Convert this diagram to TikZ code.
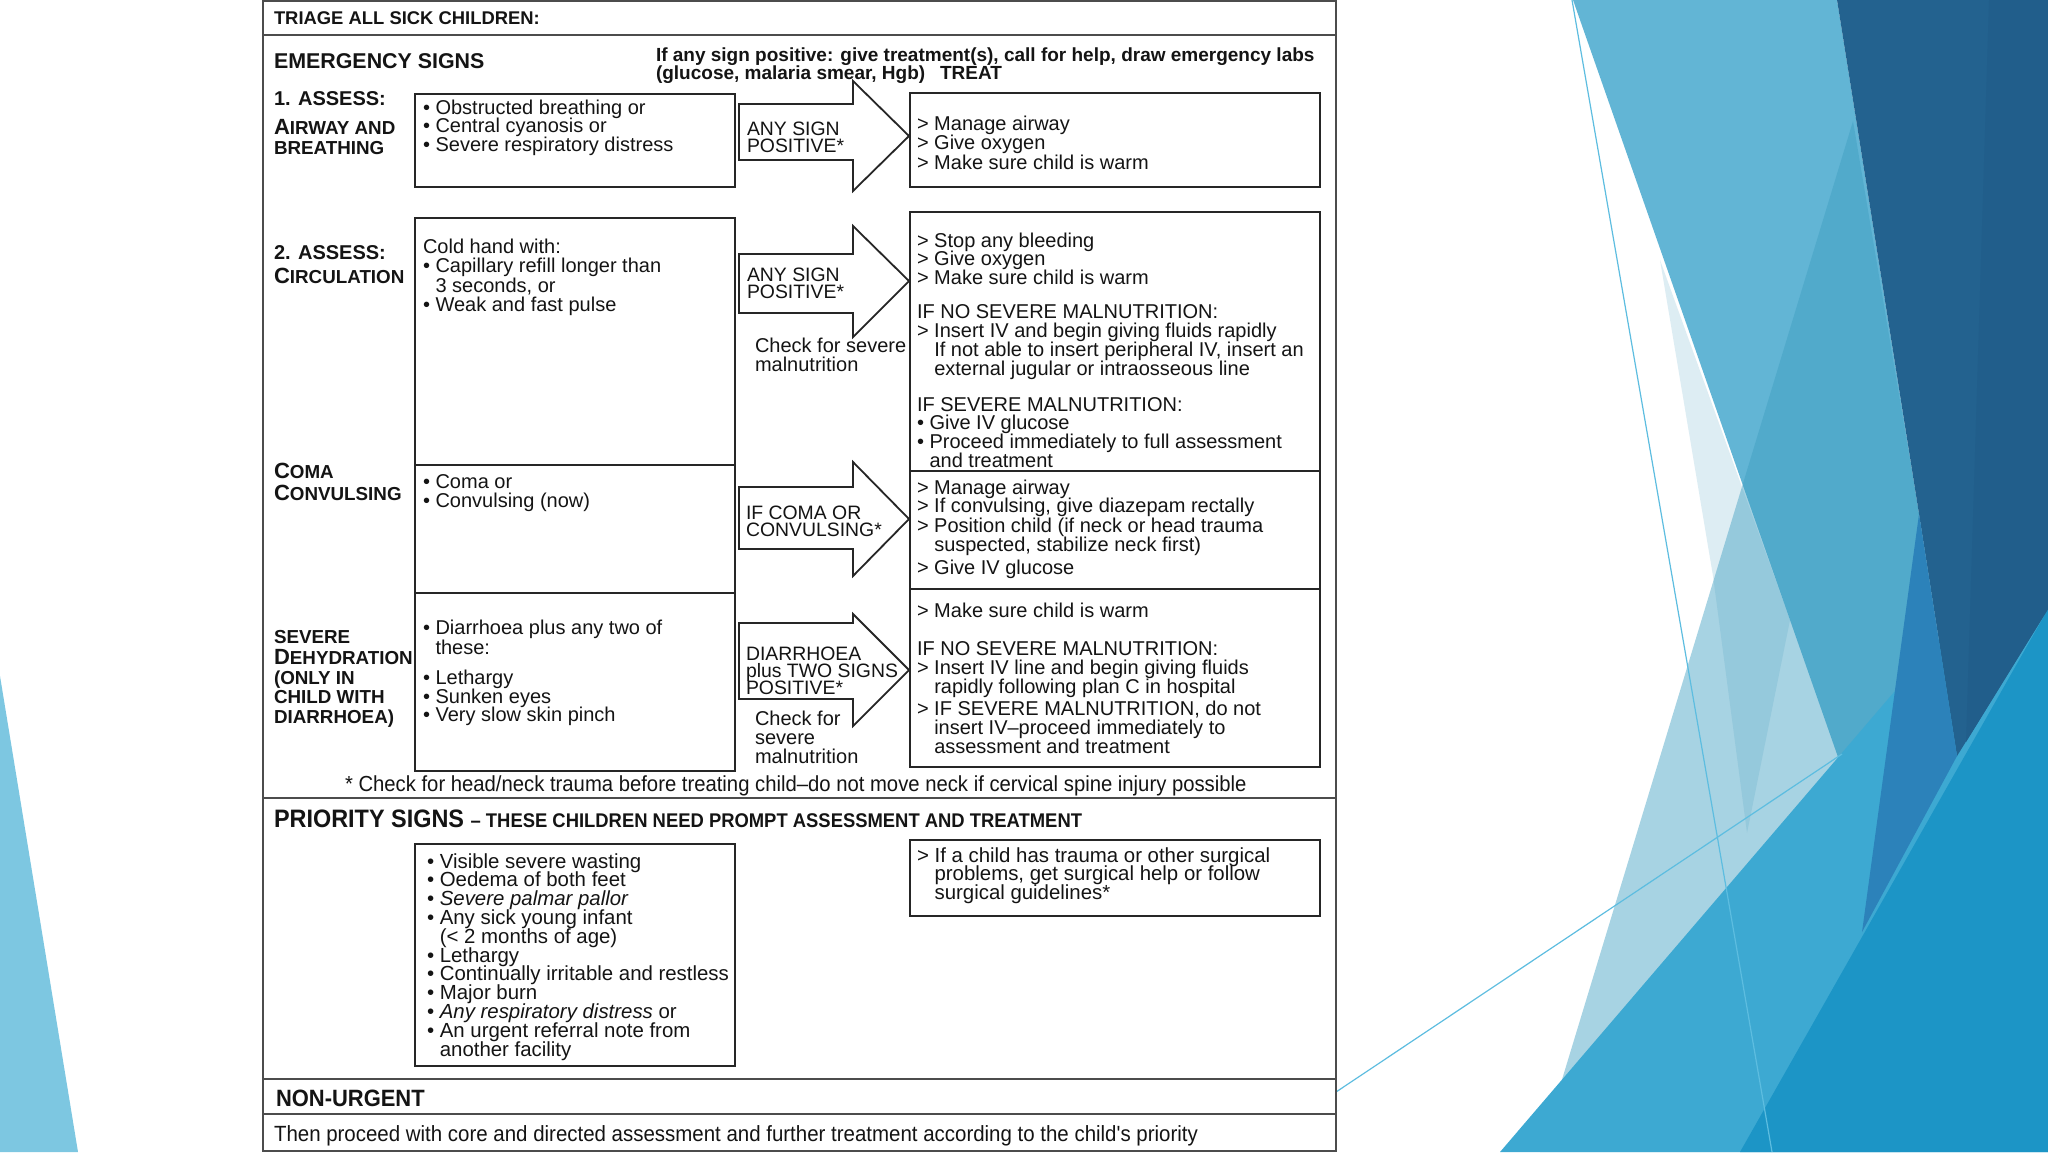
\documentclass[tikz,border=0pt]{standalone}
\usepackage{fontspec}
\setmainfont{Liberation Sans}
\newfontfamily\narf[FakeStretch=0.93]{Liberation Sans}
\definecolor{lwedge}{HTML}{7DC7E1}
\definecolor{bandA}{HTML}{62B5D5}
\definecolor{paleP}{HTML}{DDEDF3}
\definecolor{triC}{HTML}{3E9EC1}
\definecolor{brightB}{HTML}{3DA9D2}
\definecolor{brightC}{HTML}{1C95C6}
\definecolor{darkD}{HTML}{23628F}
\definecolor{darkE}{HTML}{215E8B}
\definecolor{midD}{HTML}{2C82BA}
\definecolor{thinL}{HTML}{5DBDE0}
\newcommand\capl[1]{{\fontsize{11}{11}\selectfont #1}}
\newcommand\ib{\hphantom{• }}
\newcommand\ig{\hphantom{> }}
\begin{document}
\begin{tikzpicture}[x=0.5pt,y=-0.5pt,
  tx/.style={inner sep=0pt,outer sep=0pt,anchor=base west,text=black!92},
  txem/.style={tx,font=\fontsize{10}{12}\selectfont},
  txlab/.style={tx,font=\bfseries\fontsize{9.4}{11}\selectfont},
  txarr/.style={tx,font=\fontsize{9.7}{12}\selectfont},
  txnar/.style={tx,font=\fontsize{10.2}{12}\selectfont},
  txtop/.style={tx,font=\bfseries\fontsize{9.5}{11}\selectfont},
  boxline/.style={draw=black!85,line width=0.9pt},
  frameline/.style={draw=black!70,line width=1pt},
  arrowshape/.style={draw=black!85,line width=0.9pt,fill=white,line join=miter},
]
% ---------- background ----------
\fill[white] (0,0) rectangle (2048,1152);
\useasboundingbox (0,0) rectangle (2048,1152);
\fill[lwedge] (0,676) -- (78,1152) -- (0,1152) -- cycle;
\fill[paleP] (1660,260) -- (1790,620) -- (1747,833) -- (1713,576) -- cycle;
\fill[bandA] (1573,0) -- (1837,0) -- (1919,514) -- (1957,756) -- (1839,760) -- cycle;
\fill[triC,opacity=0.45] (1853,121) -- (1919,514) -- (1957,756) -- (1900,1152) -- (1540,1152) -- cycle;
\fill[brightB] (1500,1152) -- (1960,615) -- (2048,609) -- (2048,1152) -- cycle;
\fill[brightC] (1740,1152) -- (2048,609) -- (2048,1152) -- cycle;
\fill[darkD] (1837,0) -- (2048,0) -- (2048,609) -- (1957,756) -- (1919,514) -- cycle;
\fill[darkE] (1989,0) -- (2048,0) -- (2048,609) -- (1966,742) -- cycle;
\fill[midD] (1919,514) -- (1957,756) -- (1862,932) -- cycle;
\draw[thinL,line width=0.6pt] (1572,0) -- (1772,1152);
\coordinate (lnA) at (1336,1092);
\coordinate (lnB) at (1842,754);
\draw[thinL,line width=0.6pt] (lnA) -- (lnB);

% ---------- table frame ----------
\fill[white] (263,1) rectangle (1336,1151);
\draw[frameline] (263,1) rectangle (1336,1151);
\draw[frameline] (263,35) -- (1336,35);
\draw[frameline] (263,798) -- (1336,798);
\draw[frameline] (263,1079) -- (1336,1079);
\draw[frameline] (263,1114) -- (1336,1114);

% ---------- boxes ----------
\draw[boxline] (415,94) rectangle (735,187);
\draw[boxline] (415,218) rectangle (735,771);
\draw[boxline] (415,465) -- (735,465);
\draw[boxline] (415,593) -- (735,593);
\draw[boxline] (910,93) rectangle (1320,187);
\draw[boxline] (910,212) rectangle (1320,767);
\draw[boxline] (910,471) -- (1320,471);
\draw[boxline] (910,589) -- (1320,589);
\draw[boxline] (415,844) rectangle (735,1066);
\draw[boxline] (910,840) rectangle (1320,916);

% ---------- block arrows ----------
\draw[arrowshape] (739,104) -- (853,104) -- (853,81) -- (909,136) -- (853,191) -- (853,160) -- (739,160) -- cycle;
\draw[arrowshape] (739,254) -- (853,254) -- (853,226) -- (909,281) -- (853,337) -- (853,313) -- (739,313) -- cycle;
\draw[arrowshape] (739,487) -- (853,487) -- (853,462) -- (909,519) -- (853,576) -- (853,549) -- (739,549) -- cycle;
\draw[arrowshape] (739,623) -- (853,623) -- (853,614) -- (909,670) -- (853,726) -- (853,699) -- (739,699) -- cycle;

% ---------- headings ----------
\node[tx,font=\bfseries\fontsize{9.2}{11}\selectfont] (title) at (274,24) {TRIAGE ALL SICK CHILDREN:};
\node[tx,font=\bfseries\fontsize{10.7}{12}\selectfont] (emerg) at (274,68) {EMERGENCY SIGNS};
\node[txtop] (top1) at (656,61) {If any sign positive: give treatment(s), call for help, draw emergency labs};
\node[txtop] (top2) at (656,79) {(glucose, malaria smear, Hgb)};
\node[txtop] (treat) at (940,79) {TREAT};

% ---------- left labels ----------
\node[tx,font=\bfseries\fontsize{10}{12}\selectfont] (as1) at (274,105) {1. ASSESS:};
\node[txlab] (air1) at (274,134.5) {\capl{A}IRWAY AND};
\node[txlab] (air2) at (274,154.5) {BREATHING};
\node[tx,font=\bfseries\fontsize{10}{12}\selectfont] (as2) at (274,259) {2. ASSESS:};
\node[txlab] (circ) at (274,283.5) {\capl{C}IRCULATION};
\node[txlab] (coma1) at (274,478.5) {\capl{C}OMA};
\node[txlab] (coma2) at (274,500.5) {\capl{C}ONVULSING};
\node[txlab] (deh1) at (274,643.5) {SEVERE};
\node[txlab] (deh2) at (274,664.5) {\capl{D}EHYDRATION};
\node[txlab] (deh3) at (274,684.5) {(ONLY IN};
\node[txlab] (deh4) at (274,703.5) {CHILD WITH};
\node[txlab] (deh5) at (274,723.5) {DIARRHOEA)};

% ---------- assess boxes text ----------
\node[txem] (a1a) at (423,114) {• Obstructed breathing or};
\node[txem] (a1b) at (423,132.5) {• Central cyanosis or};
\node[txem] (a1c) at (423,151) {• Severe respiratory distress};

\node[txem] (a2a) at (423,253) {Cold hand with:};
\node[txem] (a2b) at (423,272) {• Capillary refill longer than};
\node[txem] (a2c) at (423,292) {\ib 3 seconds, or};
\node[txem] (a2d) at (423,311) {• Weak and fast pulse};

\node[txem] (a3a) at (423,488) {• Coma or};
\node[txem] (a3b) at (423,507) {• Convulsing (now)};

\node[txem] (a4a) at (423,634) {• Diarrhoea plus any two of};
\node[txem] (a4b) at (423,654) {\ib these:};
\node[txem] (a4c) at (423,684) {• Lethargy};
\node[txem] (a4d) at (423,703) {• Sunken eyes};
\node[txem] (a4e) at (423,721.5) {• Very slow skin pinch};

% ---------- arrow labels ----------
\node[txarr] (ar1a) at (747,135) {ANY SIGN};
\node[txarr] (ar1b) at (747,152) {POSITIVE*};
\node[txarr] (ar2a) at (747,281) {ANY SIGN};
\node[txarr] (ar2b) at (747,298) {POSITIVE*};
\node[txem] (ck1a) at (755,352) {Check for severe};
\node[txem] (ck1b) at (755,371) {malnutrition};
\node[txarr] (ar3a) at (746,519) {IF COMA OR};
\node[txarr] (ar3b) at (746,536) {CONVULSING*};
\node[txarr] (ar4a) at (746,660) {DIARRHOEA};
\node[txarr] (ar4b) at (746,677) {plus TWO SIGNS};
\node[txarr] (ar4c) at (746,694) {POSITIVE*};
\node[txem] (ck2a) at (755,725) {Check for};
\node[txem] (ck2b) at (755,744) {severe};
\node[txem] (ck2c) at (755,763) {malnutrition};

% ---------- treatment boxes text ----------
\node[txem] (t1a) at (917,130) {> Manage airway};
\node[txem] (t1b) at (917,149.5) {> Give oxygen};
\node[txem] (t1c) at (917,169) {> Make sure child is warm};

\node[txem] (t2a) at (917,247) {> Stop any bleeding};
\node[txem] (t2b) at (917,265.5) {> Give oxygen};
\node[txem] (t2c) at (917,284) {> Make sure child is warm};
\node[txem] (t2d) at (917,318) {IF NO SEVERE MALNUTRITION:};
\node[txem] (t2e) at (917,337) {> Insert IV and begin giving fluids rapidly};
\node[txem] (t2f) at (917,356) {\ig If not able to insert peripheral IV, insert an};
\node[txem] (t2g) at (917,375) {\ig external jugular or intraosseous line};
\node[txem] (t2h) at (917,411) {IF SEVERE MALNUTRITION:};
\node[txem] (t2i) at (917,429.5) {• Give IV glucose};
\node[txem] (t2j) at (917,448) {• Proceed immediately to full assessment};
\node[txem] (t2k) at (917,467) {\ib and treatment};

\node[txem] (t3a) at (917,494) {> Manage airway};
\node[txem] (t3b) at (917,512.5) {> If convulsing, give diazepam rectally};
\node[txem] (t3c) at (917,532) {> Position child (if neck or head trauma};
\node[txem] (t3d) at (917,551) {\ig suspected, stabilize neck first)};
\node[txem] (t3e) at (917,574) {> Give IV glucose};

\node[txem] (t4a) at (917,617) {> Make sure child is warm};
\node[txem] (t4b) at (917,655) {IF NO SEVERE MALNUTRITION:};
\node[txem] (t4c) at (917,674) {> Insert IV line and begin giving fluids};
\node[txem] (t4d) at (917,693) {\ig rapidly following plan C in hospital};
\node[txem] (t4e) at (917,715) {> IF SEVERE MALNUTRITION, do not};
\node[txem] (t4f) at (917,734) {\ig insert IV–proceed immediately to};
\node[txem] (t4g) at (917,753) {\ig assessment and treatment};

% ---------- footnote ----------
\node[tx,font=\narf\fontsize{10.9}{13}\selectfont] (foot) at (345,791) {* Check for head/neck trauma before treating child–do not move neck if cervical spine injury possible};

% ---------- priority ----------
\node[tx,font=\narf\bfseries\fontsize{12.6}{14}\selectfont] (prio) at (274,827) {PRIORITY SIGNS {\fontsize{9.9}{11}\selectfont – THESE CHILDREN NEED PROMPT ASSESSMENT AND TREATMENT}};
\node[txnar] (p1) at (427,868) {• Visible severe wasting};
\node[txnar] (p2) at (427,886.8) {• Oedema of both feet};
\node[txnar] (p3) at (427,905.6) {• \textit{Severe palmar pallor}};
\node[txnar] (p4) at (427,924.4) {• Any sick young infant};
\node[txnar] (p5) at (427,943.2) {\ib(< 2 months of age)};
\node[txnar] (p6) at (427,962) {• Lethargy};
\node[txnar] (p7) at (427,980.8) {• Continually irritable and restless};
\node[txnar] (p8) at (427,999.6) {• Major burn};
\node[txnar] (p9) at (427,1018.4) {• \textit{Any respiratory distress} or};
\node[txnar] (p10) at (427,1037.2) {• An urgent referral note from};
\node[txnar] (p11) at (427,1056) {\ib another facility};
\node[txnar] (pt1) at (917,862) {> If a child has trauma or other surgical};
\node[txnar] (pt2) at (917,880.8) {\ig problems, get surgical help or follow};
\node[txnar] (pt3) at (917,899.6) {\ig surgical guidelines*};

% ---------- non-urgent ----------
\node[tx,font=\narf\bfseries\fontsize{11.8}{14}\selectfont] (nonurg) at (276,1106) {NON-URGENT};
\node[tx,font=\narf\fontsize{11}{13}\selectfont] (then) at (274,1141) {Then proceed with core and directed assessment and further treatment according to the child's priority};
\end{tikzpicture}
\end{document}
